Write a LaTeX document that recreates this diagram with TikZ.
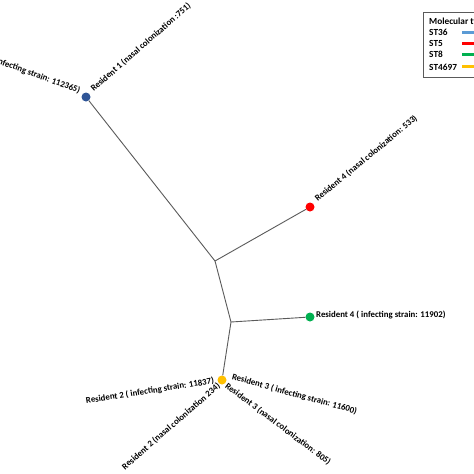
\documentclass[tikz,border=0pt]{standalone}
\usepackage{fontspec}
\setmainfont{Carlito}
\definecolor{dotblue}{RGB}{47,85,151}
\definecolor{dotred}{RGB}{255,0,0}
\definecolor{dotgreen}{RGB}{0,176,80}
\definecolor{dotyellow}{RGB}{255,192,0}
\definecolor{legblue}{RGB}{91,155,213}
\definecolor{edgegray}{RGB}{90,90,90}
\tikzset{
  dot/.style={circle,inner sep=0pt,minimum size=9pt},
  edge/.style={draw=edgegray,line width=0.9pt},
  lbl/.style={inner sep=0pt,font=\bfseries\fontsize{8.8}{9.5}\selectfont},
  legtext/.style={inner sep=0pt,anchor=base west,font=\bfseries\fontsize{9.3}{10}\selectfont},
  legline/.style={line width=2.6pt},
}
\begin{document}
\begin{tikzpicture}[x=1pt,y=-1pt]
\useasboundingbox (0,0) rectangle (474,474);
\clip (0,0) rectangle (474,474);
\fill[white] (0,0) rectangle (474,474);
% internal junctions
\coordinate (j1) at (215,261);
\coordinate (j2) at (231,322);
% leaves
\node[dot,fill=dotblue] (blue) at (86,97) {};
\node[dot,fill=dotred] (red) at (310,207) {};
\node[dot,fill=dotgreen] (green) at (310,317) {};
\node[dot,fill=dotyellow] (yellow) at (222,380) {};
% edges
\draw[edge] (blue) -- (j1);
\draw[edge] (j1) -- (red);
\draw[edge] (j1) -- (j2);
\draw[edge] (j2) -- (green);
\draw[edge] (j2) -- (yellow);
% labels
\node[lbl,anchor=west,rotate=41] (l1) at (92,90) {Resident 1 (nasal colonization :751)};
\node[lbl,anchor=east,rotate=-20] (l2) at (80,91) {Resident 1 ( infecting strain: 112365)};
\node[lbl,anchor=west,rotate=39.5] (l3) at (316,200) {Resident 4 (nasal colonization: 533)};
\node[lbl,anchor=west] (l4) at (316,315) {Resident 4 ( infecting strain: 11902)};
\node[lbl,anchor=east,rotate=9] (l5) at (214,381) {Resident 2 ( infecting strain: 11837)};
\node[lbl,anchor=east,rotate=41] (l6) at (219,385) {Resident 2 (nasal colonization 234)};
\node[lbl,anchor=west,rotate=-15.5] (l7) at (232,377) {Resident 3 ( infecting strain: 11600)};
\node[lbl,anchor=west,rotate=-37] (l8) at (226,385) {Resident 3 (nasal colonization: 805)};
% legend
\draw[edgegray,line width=0.7pt] (423,12) rectangle (495,77);
\node[legtext] (lt) at (429,24) {Molecular typing};
\node[legtext] (s1) at (429,35.5) {ST36};
\node[legtext] (s2) at (429,46.5) {ST5};
\node[legtext] (s3) at (429,57.5) {ST8};
\node[legtext] (s4) at (429,70) {ST4697};
\coordinate (e1) at (462,32.3); \coordinate (f1) at (480,32.3);
\coordinate (e2) at (462,43.3); \coordinate (f2) at (480,43.3);
\coordinate (e3) at (462,54.3); \coordinate (f3) at (480,54.3);
\coordinate (e4) at (462,66.7); \coordinate (f4) at (480,66.7);
\draw[legline,legblue] (e1) -- (f1);
\draw[legline,dotred] (e2) -- (f2);
\draw[legline,dotgreen] (e3) -- (f3);
\draw[legline,dotyellow] (e4) -- (f4);
\end{tikzpicture}
\end{document}
